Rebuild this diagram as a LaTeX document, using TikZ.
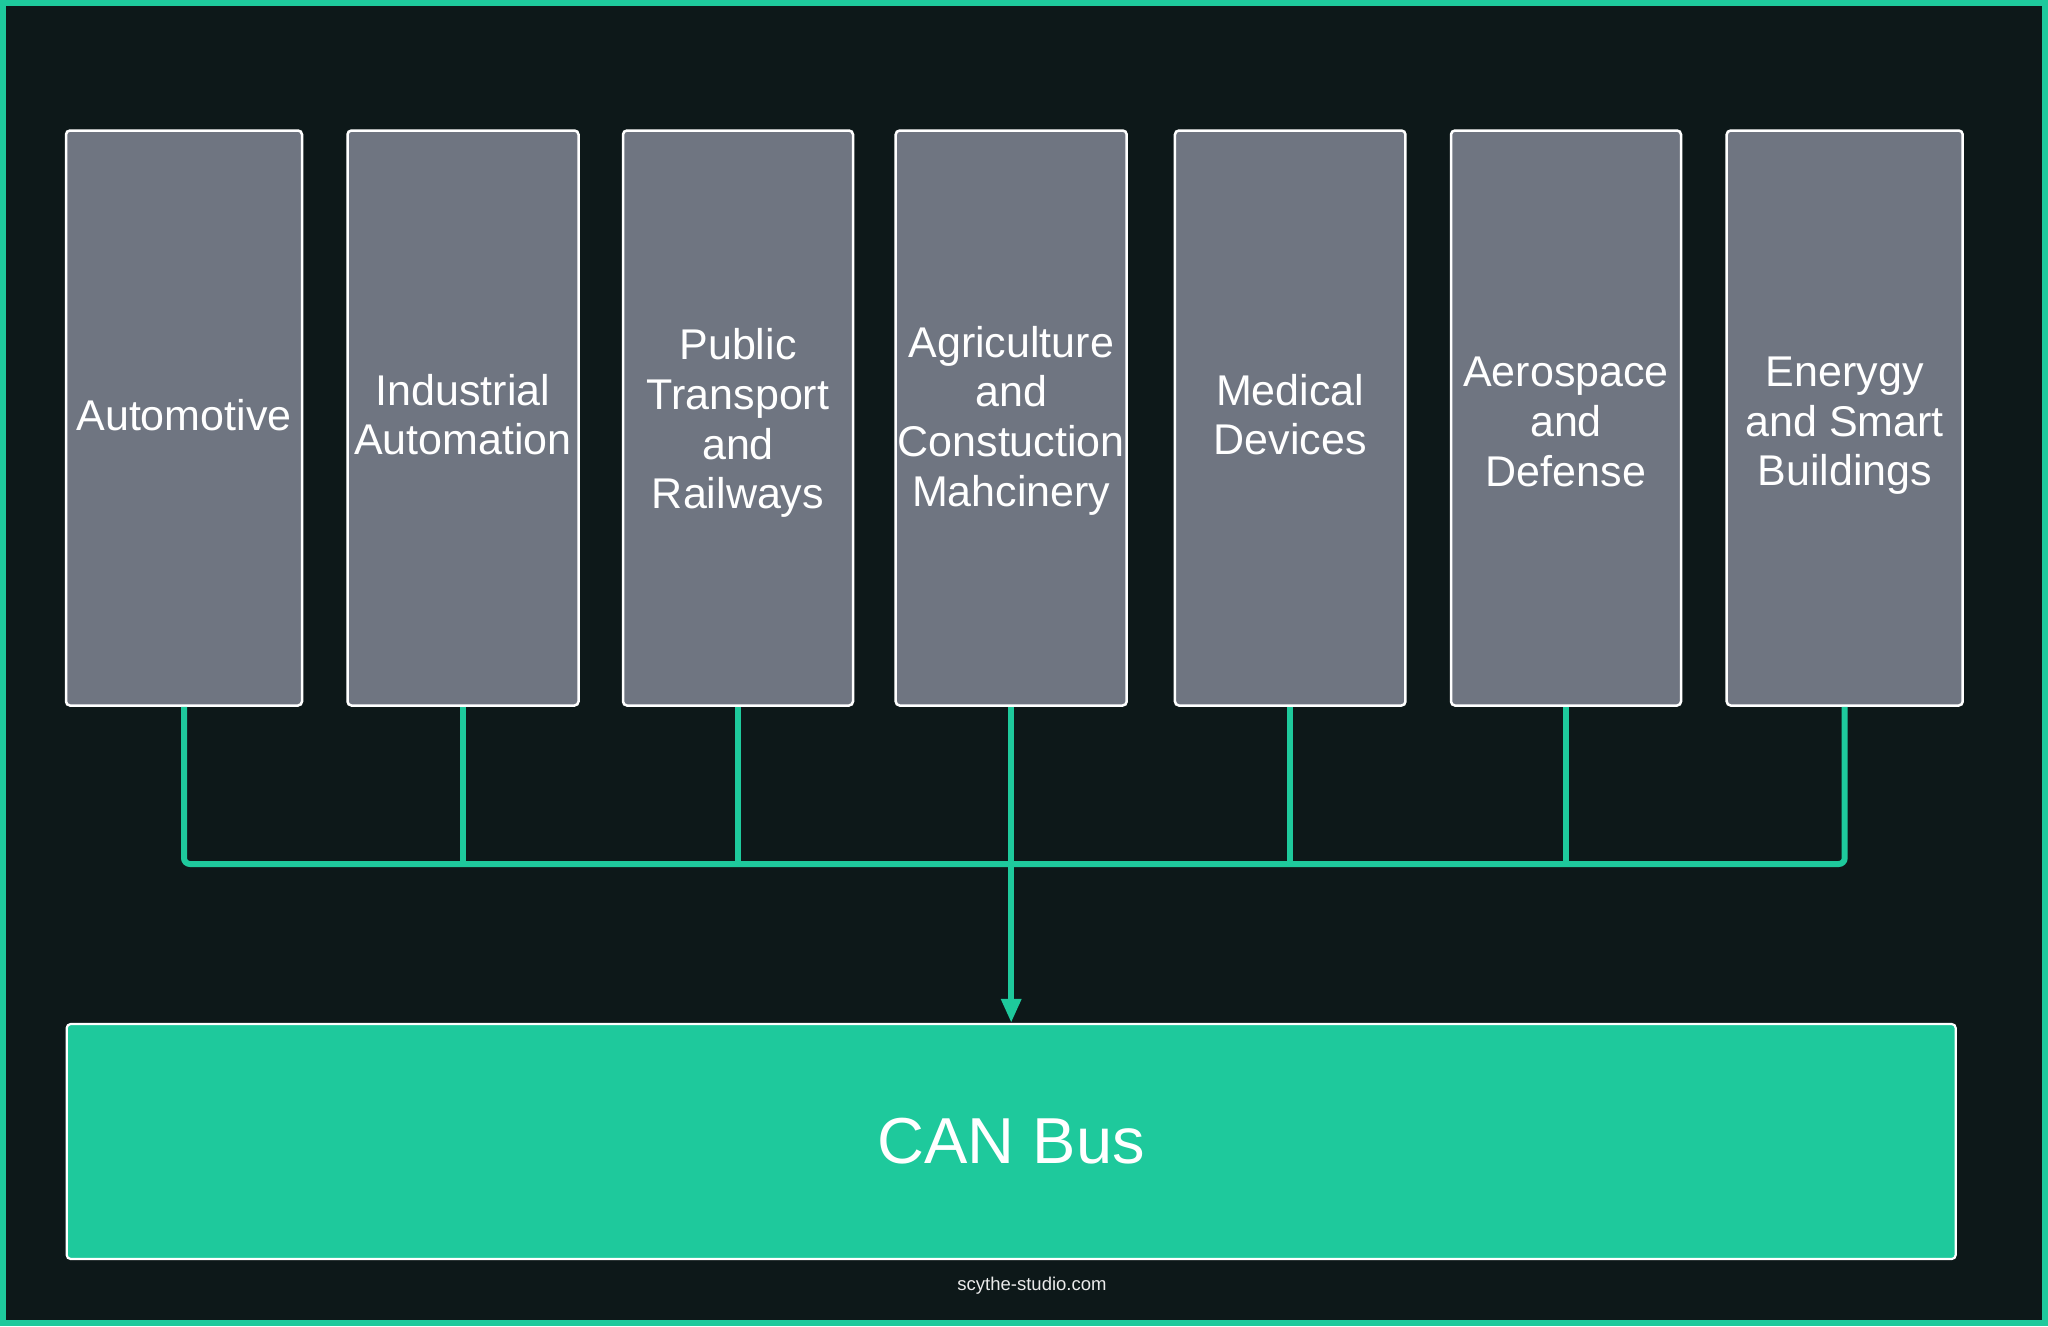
\documentclass[tikz,border=0pt]{standalone}
\usepackage{fontspec}
\setmainfont{Liberation Sans}
\usetikzlibrary{arrows.meta}
\definecolor{bg}{HTML}{0D1819}
\definecolor{accent}{HTML}{1EC99C}
\definecolor{boxgray}{HTML}{6F7581}
\begin{document}
\begin{tikzpicture}[x=1pt,y=-1pt,
  catbox/.style={draw=white, line width=2.5pt, fill=boxgray, rounded corners=4pt,
    minimum height=575pt, inner sep=0pt},
  cattext/.style={inner sep=0pt, align=center, text=white,
    font=\fontsize{43}{49.6}\selectfont},
  canbox/.style={draw=white, line width=2.2pt, fill=accent, rounded corners=4pt,
    minimum width=1889pt, minimum height=235pt, inner sep=0pt, text=white,
    font=\fontsize{65}{78}\selectfont},
  wire/.style={draw=accent, line width=6pt},
  footer/.style={text=white!92!black, font=\fontsize{18.5}{22}\selectfont, inner sep=0pt}]
\useasboundingbox (0,0) rectangle (2048,1326);
\fill[accent] (0,0) rectangle (2048,1326);
\fill[bg] (6,6) rectangle (2042,1320);

\node[catbox, minimum width=236pt] (b1) at (184,418) {};
\node[catbox, minimum width=231pt] (b2) at (463,418) {};
\node[catbox, minimum width=230pt] (b3) at (738,418) {};
\node[catbox, minimum width=231pt] (b4) at (1011.2,418) {};
\node[catbox, minimum width=230.5pt] (b5) at (1290.2,418) {};
\node[catbox, minimum width=230pt] (b6) at (1566,418) {};
\node[catbox, minimum width=236pt] (b7) at (1844.7,418) {};

\node[cattext] (t1) at (184,415.4) {Automotive};
\node[cattext] (t2) at (463,414.7) {Industrial\\Automation};
\node[cattext] (t3) at (738,423.2) {Public\\Transport\\and\\Railways};
\node[cattext] (t4) at (1011.2,420.6) {Agriculture\\and\\Constuction\\Mahcinery};
\node[cattext] (t5) at (1290.2,414.7) {Medical\\Devices};
\node[cattext] (t6) at (1566,422) {Aerospace\\and\\Defense};
\node[cattext] (t7) at (1844.7,425.8) {Enerygy\\and Smart\\Buildings};

\node[canbox] (can) at (1011.2,1141.5) {CAN Bus};
\node[footer] (foot) at (1032,1286) {scythe-studio.com};

\coordinate (jn) at (1011.2,864);
\draw[wire, rounded corners=6pt] (b1.south) |- (jn) -| (b7.south);
\draw[wire] (b2.south) -- (b2.south |- jn);
\draw[wire] (b3.south) -- (b3.south |- jn);
\draw[wire] (b5.south) -- (b5.south |- jn);
\draw[wire] (b6.south) -- (b6.south |- jn);
\draw[wire, -{Triangle[width=19pt,length=24pt]}] (b4.south) -- (can.north);
\end{tikzpicture}
\end{document}
